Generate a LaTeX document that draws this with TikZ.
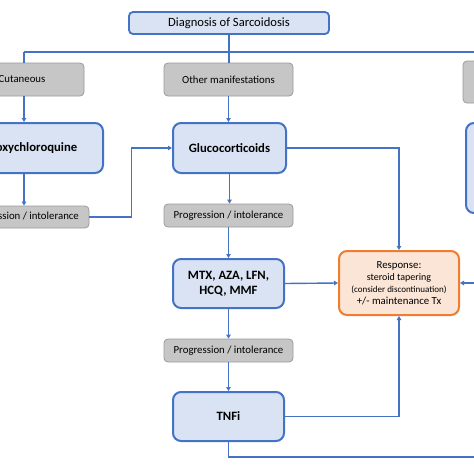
\documentclass[tikz,border=0pt]{standalone}
\usepackage{fontspec}
\setmainfont{Carlito}
\usetikzlibrary{arrows.meta}
\definecolor{lineblue}{HTML}{4472C4}
\definecolor{boxblue}{HTML}{DAE3F3}
\definecolor{boxgray}{HTML}{C6C6C6}
\definecolor{graydraw}{HTML}{9A9A9A}
\definecolor{orfill}{HTML}{FBE5D6}
\definecolor{ordraw}{HTML}{ED7D31}
\begin{document}
\begin{tikzpicture}[x=1pt,y=-1pt,
 conn/.style={draw=lineblue,line width=1.4pt},
 arr/.style={conn,-{Triangle[length=4pt,width=4.5pt]}},
 bluebox/.style={draw=lineblue,fill=boxblue,line width=2pt,rounded corners=8pt,inner sep=0pt,font=\fontsize{12.7}{15.5}\selectfont\bfseries,align=center},
 smallblue/.style={draw=lineblue,fill=boxblue,line width=1.8pt,rounded corners=4pt,inner sep=0pt,font=\fontsize{12.6}{14}\selectfont},
 graybox/.style={draw=graydraw,fill=boxgray,line width=0.8pt,rounded corners=4pt,inner sep=0pt,font=\fontsize{10.8}{12}\selectfont},
 respbox/.style={draw=ordraw,fill=orfill,line width=2pt,rounded corners=8pt,inner sep=0pt,align=center}
]
\useasboundingbox (0,0) rectangle (474,474);
\fill[white] (0,0) rectangle (474,474);
\clip (0,0) rectangle (474,474);

\node[smallblue,minimum width=200,minimum height=22] (diag) at (229,23) {Diagnosis of Sarcoidosis};
\node[graybox,minimum width=124,minimum height=33] (cut) at (22,79.5) {Cutaneous};
\node[bluebox,minimum width=158,minimum height=50] (hcq) at (24,148) {Hydroxychloroquine};
\node[graybox,minimum width=130,minimum height=22] (p1) at (24,217) {Progression / intolerance};
\node[graybox,minimum width=129,minimum height=33] (oth) at (228.5,79.5) {Other manifestations};
\node[bluebox,minimum width=113,minimum height=50] (glu) at (229.5,148) {Glucocorticoids};
\node[graybox,minimum width=129,minimum height=23] (p2) at (228.5,215.5) {Progression / intolerance};
\node[bluebox,minimum width=111,minimum height=49] (mtx) at (228.5,283.5) {MTX, AZA, LFN,\\HCQ, MMF};
\node[graybox,minimum width=129,minimum height=23] (p3) at (228.5,350.5) {Progression / intolerance};
\node[bluebox,minimum width=111,minimum height=49] (tnf) at (228.5,416.5) {TNFi};
\node[respbox,minimum width=120,minimum height=64] (resp) at (399,283)
 {\fontsize{10.8}{13}\selectfont Response:\\ steroid tapering\\
  \fontsize{9}{11.5}\selectfont (consider discontinuation)\\
  \fontsize{10.8}{12}\selectfont +/- maintenance Tx};
\node[graybox,minimum width=130,minimum height=42] (rg) at (528,82) {};
\node[bluebox,minimum width=150,minimum height=90] (rb) at (541,168) {};

\coordinate (busL) at (24,52);
\coordinate (busR) at (480,52);
\coordinate (bot) at (480,457);
\coordinate (rin) at (480,283);

\draw[conn] (diag.south) -- (diag.south |- oth.north);
\draw[conn] (busL) -- (busR);
\draw[conn] (busL) -- (busL |- cut.north);
\draw[arr] (busL |- cut.south) -- (hcq.north);
\draw[arr] (hcq.south) -- (p1.north);
\draw[arr] (p1.east) -- ++(42,0) |- (glu.west);
\draw[arr] (oth.south) -- (oth.south |- glu.north);
\draw[arr] (glu.south) -- (glu.south |- p2.north);
\draw[arr] (p2.south) -- (mtx.north);
\draw[arr] (mtx.south) -- (p3.north);
\draw[arr] (p3.south) -- (tnf.north);
\draw[arr] (glu.east) -| (resp.north);
\draw[arr] (mtx.east) -- (resp.west);
\draw[arr] (tnf.east) -| (resp.south);
\draw[conn] (tnf.south) |- (bot);
\draw[arr] (rin) -- (resp.east);
\end{tikzpicture}
\end{document}
